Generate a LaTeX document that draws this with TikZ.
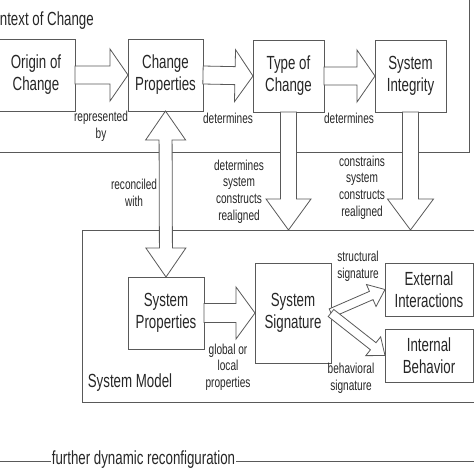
\documentclass[tikz,border=0pt]{standalone}
\usepackage{fontspec}
\setmainfont{Liberation Sans}[FakeStretch=0.70]
\usetikzlibrary{calc}
% hollow block arrow: from, to, half shaft, half head, head length
\newcommand{\blockarrow}[5]{%
  \coordinate (ba-base) at ($(#2)!#5!(#1)$);
  \filldraw[hollow] ($(#1)!#3!90:(#2)$) -- ($(ba-base)!#3!-90:(#1)$)
    -- ($(ba-base)!#4!-90:(#1)$) -- (#2) -- ($(ba-base)!#4!90:(#1)$)
    -- ($(ba-base)!#3!90:(#1)$) -- ($(#1)!#3!-90:(#2)$) -- cycle;
}
% hollow arrow with a head at both ends
\newcommand{\twowayarrow}[5]{%
  \coordinate (ta-one) at ($(#1)!#5!(#2)$);
  \coordinate (ta-two) at ($(#2)!#5!(#1)$);
  \filldraw[hollow] (#1) -- ($(ta-one)!#4!90:(#2)$) -- ($(ta-one)!#3!90:(#2)$)
    -- ($(ta-two)!#3!90:(#2)$) -- ($(ta-two)!#4!90:(#2)$) -- (#2)
    -- ($(ta-two)!#4!-90:(#2)$) -- ($(ta-two)!#3!-90:(#2)$)
    -- ($(ta-one)!#3!-90:(#2)$) -- ($(ta-one)!#4!-90:(#2)$) -- cycle;
}

\begin{document}
\begin{tikzpicture}[
  x=1pt, y=-1pt,
  font=\fontsize{19}{22}\selectfont,
  frame/.style={draw=black!65, line width=0.8pt, inner sep=0pt, outer sep=0pt, anchor=north west},
  box/.style={draw=black!65, line width=0.8pt, fill=white, align=center, minimum width=71pt, minimum height=72pt, inner sep=0pt, outer sep=0pt, text=black!85},
  lbl/.style={align=center, inner sep=0pt, text=black!85, font=\fontsize{14.4}{16.6}\selectfont},
  hollow/.style={draw=black!65, line width=0.8pt, fill=white, line join=miter}
]
\useasboundingbox (0,0) rectangle (474,474);
\clip (0,0) rectangle (474,474);

% frames
\node[frame, minimum width=474pt, minimum height=157pt] (context) at (-5,-5) {};
\node[anchor=east, inner sep=0pt, text=black!85] (contexttitle) at (94,21) {Context of Change};
\node[frame, minimum width=400pt, minimum height=172pt] (model) at (82,230) {};
\node[inner sep=0pt, text=black!85] (modeltitle) at (130,383) {System Model};

% context of change
\node[box, minimum width=78pt] (origin) at (36,75) {Origin of\\Change};
\node[box, minimum width=75pt] (chprop) at (165.5,75) {Change\\Properties};
\node[box] (chtype) at (288.5,76) {Type of\\Change};
\node[box] (integ) at (410.5,76) {System\\Integrity};

% system model
\node[box, minimum width=76pt] (sysprop) at (166,313) {System\\Properties};
\node[box, minimum width=76pt, minimum height=100pt] (syssig) at (293,313) {System\\Signature};
\node[box, minimum width=88pt, minimum height=53pt] (extint) at (429,289.5) {External\\Interactions};
\node[box, minimum width=88pt, minimum height=53pt] (intbeh) at (429,355.5) {Internal\\Behavior};

% connectors
\blockarrow{origin.east}{chprop.west}{9pt}{26pt}{18pt}
\blockarrow{chprop.east}{chtype.west}{9pt}{26pt}{18pt}
\blockarrow{chtype.east}{integ.west}{9pt}{26pt}{18pt}
\twowayarrow{chprop.south}{sysprop.north}{6.5pt}{20pt}{29pt}
\coordinate (typetip) at (chtype.south |- model.north);
\coordinate (integtip) at (integ.south |- model.north);
\blockarrow{chtype.south}{typetip}{8pt}{22.5pt}{31pt}
\blockarrow{integ.south}{integtip}{8pt}{23pt}{31pt}
\blockarrow{sysprop.east}{syssig.west}{9.5pt}{26pt}{19pt}
\blockarrow{syssig.east}{extint.west}{4.5pt}{12pt}{15pt}
\blockarrow{syssig.east}{intbeh.west}{4.5pt}{12pt}{15pt}

% labels
\node[lbl] (reprlbl) at (101,126) {represented\\by};
\node[lbl] (detlbl) at (228,118) {determines};
\node[lbl] (detlbltwo) at (349,118) {determines};
\node[lbl] (reclbl) at (134,193) {reconciled\\with};
\node[lbl] (realignlbl) at (239,191.5) {determines\\system\\constructs\\realigned};
\node[lbl] (constrlbl) at (362,187.5) {constrains\\system\\constructs\\realigned};
\node[lbl] (globallbl) at (228,367) {global or\\local\\properties};
\node[lbl] (structlbl) at (358,266) {structural\\signature};
\node[lbl] (behavlbl) at (351,378) {behavioral\\signature};

% further dynamic reconfiguration
\node[inner sep=1pt, text=black!85] (further) at (143.5,460) {further dynamic reconfiguration};
\coordinate (ruleL) at (0,461);
\coordinate (ruleR) at (474,461);
\draw[draw=black!65, line width=0.8pt] (ruleL) -- (further.west |- ruleL);
\draw[draw=black!65, line width=0.8pt] (further.east |- ruleL) -- (ruleR);
\end{tikzpicture}
\end{document}
